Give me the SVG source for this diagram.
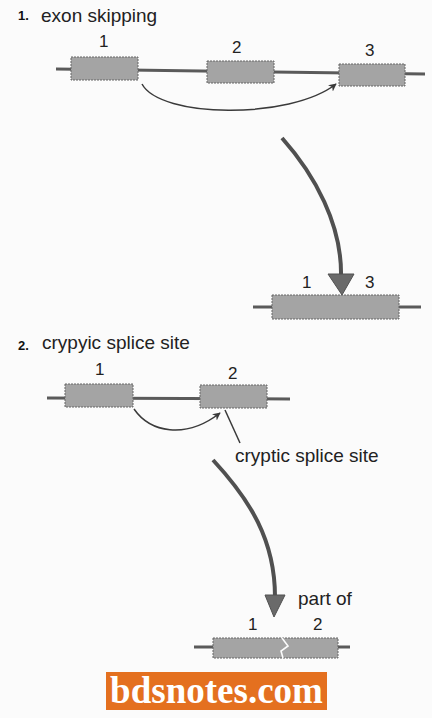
<svg xmlns="http://www.w3.org/2000/svg" width="432" height="718" viewBox="0 0 432 718">
<defs>
<style>
.bg{fill:#fbfbfb}
.dna{stroke:#5a5a5a;stroke-width:3;fill:none}
.exon{fill:#a4a4a4;stroke:#666;stroke-width:1;stroke-dasharray:2 1}
.lbl{font-family:"Liberation Sans",Arial,sans-serif;font-size:17px;fill:#222}
.title{font-family:"Liberation Sans",Arial,sans-serif;font-size:19px;fill:#222}
.num{font-family:"Liberation Sans",Arial,sans-serif;font-size:13px;font-weight:bold;fill:#111}
.thin{stroke:#3a3a3a;stroke-width:1.5;fill:none}
.thick{stroke:#505050;stroke-width:4;fill:none}
</style>
<marker id="ah" viewBox="0 0 10 10" refX="9" refY="5" markerWidth="8" markerHeight="8" markerUnits="userSpaceOnUse" orient="auto">
<path d="M0,0 L10,5 L0,10 L3,5 Z" fill="#3a3a3a"/>
</marker>
</defs>
<rect class="bg" x="0" y="0" width="432" height="718"/>

<text class="num" x="18" y="20">1.</text>
<text class="title" x="41" y="22">exon skipping</text>
<text class="num" x="18" y="350">2.</text>
<text class="title" x="42" y="349">crypyic splice site</text>

<g id="dna1">
<path class="dna" d="M56,69 L425,74"/>
</g>
<g id="exon1a"><rect class="exon" x="71" y="57" width="67" height="23"/><text class="lbl" x="99" y="47">1</text></g>
<g id="exon2a"><rect class="exon" x="207" y="61" width="67" height="22"/><text class="lbl" x="232" y="53">2</text></g>
<g id="exon3a"><rect class="exon" x="339" y="64" width="66" height="22"/><text class="lbl" x="365" y="56">3</text></g>

<g id="result1">
<path class="dna" d="M253,307 L421,307"/>
<rect class="exon" x="272" y="295" width="127" height="24"/>
<text class="lbl" x="302" y="288">1</text>
<text class="lbl" x="365" y="288">3</text>
</g>

<g id="dna2">
<path class="dna" d="M47,398 L290,399"/>
</g>
<g id="exon1b"><rect class="exon" x="65" y="384" width="68" height="23"/><text class="lbl" x="95" y="375">1</text></g>
<g id="exon2b"><rect class="exon" x="200" y="385" width="67" height="23"/><text class="lbl" x="228" y="379">2</text></g>
<g id="cryptic-label"><text class="title" x="235" y="462">cryptic splice site</text></g>

<g id="result2">
<path class="dna" d="M194,647 L350,647"/>
<rect class="exon" x="213" y="638" width="125" height="20"/>
<polyline points="282,638 288,646 281,651 283,658" fill="none" stroke="#fbfbfb" stroke-width="1.6"/>
<text class="lbl" x="248" y="630">1</text>
<text class="lbl" x="313" y="630">2</text>
<text class="title" x="298" y="605">part of</text>
</g>

<g id="connectors">
<path class="thin" d="M142,84 C160,118 290,120 336,84" marker-end="url(#ah)"/>
<path class="thick" d="M282,138 C315,175 342,225 341,276"/>
<path d="M328,274 L354,274 L342,295 Z" fill="#6a6a6a" stroke="#505050" stroke-width="1"/>
<path class="thin" d="M134,409 C150,432 185,440 220,413" marker-end="url(#ah)"/>
<path class="thin" d="M225,410 L240,443"/>
<path class="thick" d="M213,460 C250,500 275,540 275,597"/>
<path d="M265,595 L285,595 L274,617 Z" fill="#6a6a6a" stroke="#505050" stroke-width="1"/>
</g>

<g id="banner">
<rect x="106" y="672" width="221" height="38" fill="#e4701f"/>
<text x="216.5" y="703" text-anchor="middle" font-family="'Liberation Serif','Times New Roman',serif" font-weight="bold" font-size="37" fill="#ffffff">bdsnotes.com</text>
</g>
</svg>
